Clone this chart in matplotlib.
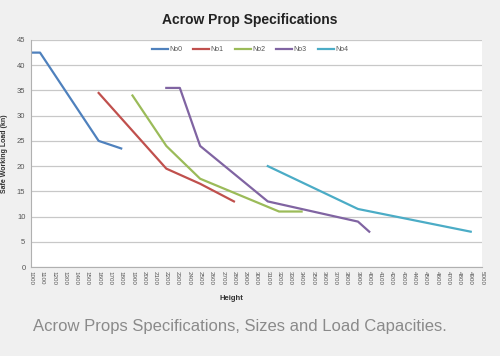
import numpy as np
import matplotlib.pyplot as plt

# Datos ------------------------------
h_no0 = [1000, 1080, 1600, 1800]
c_no0 = [42.5, 42.5, 25, 23.5]
h_no1 = [1600, 2200, 2500, 2800]
c_no1 = [34.5, 19.5, 16.5, 13]
h_no2 = [1900, 2200, 2500, 3200, 3400]
c_no2 = [34, 24, 17.5, 11, 11]
h_no3 = [2200, 2320, 2500, 3100, 3900, 4000]
c_no3 = [35.5, 35.5, 24, 13, 9, 7]
h_no4 = [3100, 3900, 4900]
c_no4 = [20, 11.5, 7]

series = [("No0", h_no0, c_no0, "#4F81BD"),
          ("No1", h_no1, c_no1, "#C0504D"),
          ("No2", h_no2, c_no2, "#9BBB59"),
          ("No3", h_no3, c_no3, "#8064A2"),
          ("No4", h_no4, c_no4, "#4BACC6")]

xticks = np.arange(1000, 5001, 100)

plt.rcParams['font.family'] = ['Liberation Sans', 'DejaVu Sans']
fig = plt.figure(figsize=(5, 3.56), dpi=100, facecolor="#f0f0f0")
ax = fig.add_axes([31/500, 1-267/356, 451/500, 227/356])
ax.set_facecolor("white")

for name, h, c, col in series:
     ax.plot(h, c, color=col, lw=1.6, label=name)

ax.set_xlim(1000, 5000)
ax.set_ylim(0, 45)
ax.set_xticks(xticks)
ax.set_xticklabels([str(v) for v in xticks], rotation=-90, fontsize=4.5, color="#555555")
ax.set_yticks(range(0, 46, 5))
ax.tick_params(axis="y", labelsize=5.5, colors="#555555", length=0, pad=4)
ax.tick_params(axis="x", length=0, pad=3)
ax.grid(axis="y", color="#c8c8c8", lw=0.9)
ax.set_axisbelow(True)
for s in ["top", "right"]:
     ax.spines[s].set_visible(False)
ax.spines["left"].set_color("#b0b0b0")
ax.spines["bottom"].set_color("#b0b0b0")

ax.set_ylabel("Safe Working Load (kn)", fontsize=5, fontweight="bold", color="#333333")
ax.yaxis.set_label_coords(-0.052, 0.5)
ax.set_xlabel("Height", fontsize=5.5, fontweight="bold", color="#333333")
ax.xaxis.set_label_coords(0.445, -0.125)

fig.text(0.5, 1-20/356, "Acrow Prop Specifications", ha="center", va="center",
         fontsize=10, fontweight="bold", color="#222222")

ax.legend(loc="upper center", bbox_to_anchor=(0.486, 1.0), ncol=5, frameon=False,
          fontsize=5, handlelength=2.3, columnspacing=1.6, handletextpad=0.2,
          labelcolor="#555555")

fig.text(33/500, 1-326/356, "Acrow Props Specifications, Sizes and Load Capacities.",
         ha="left", va="center", fontsize=12, color="#8a8a8a")

fig.savefig("out.png", dpi=100, facecolor=fig.get_facecolor())
